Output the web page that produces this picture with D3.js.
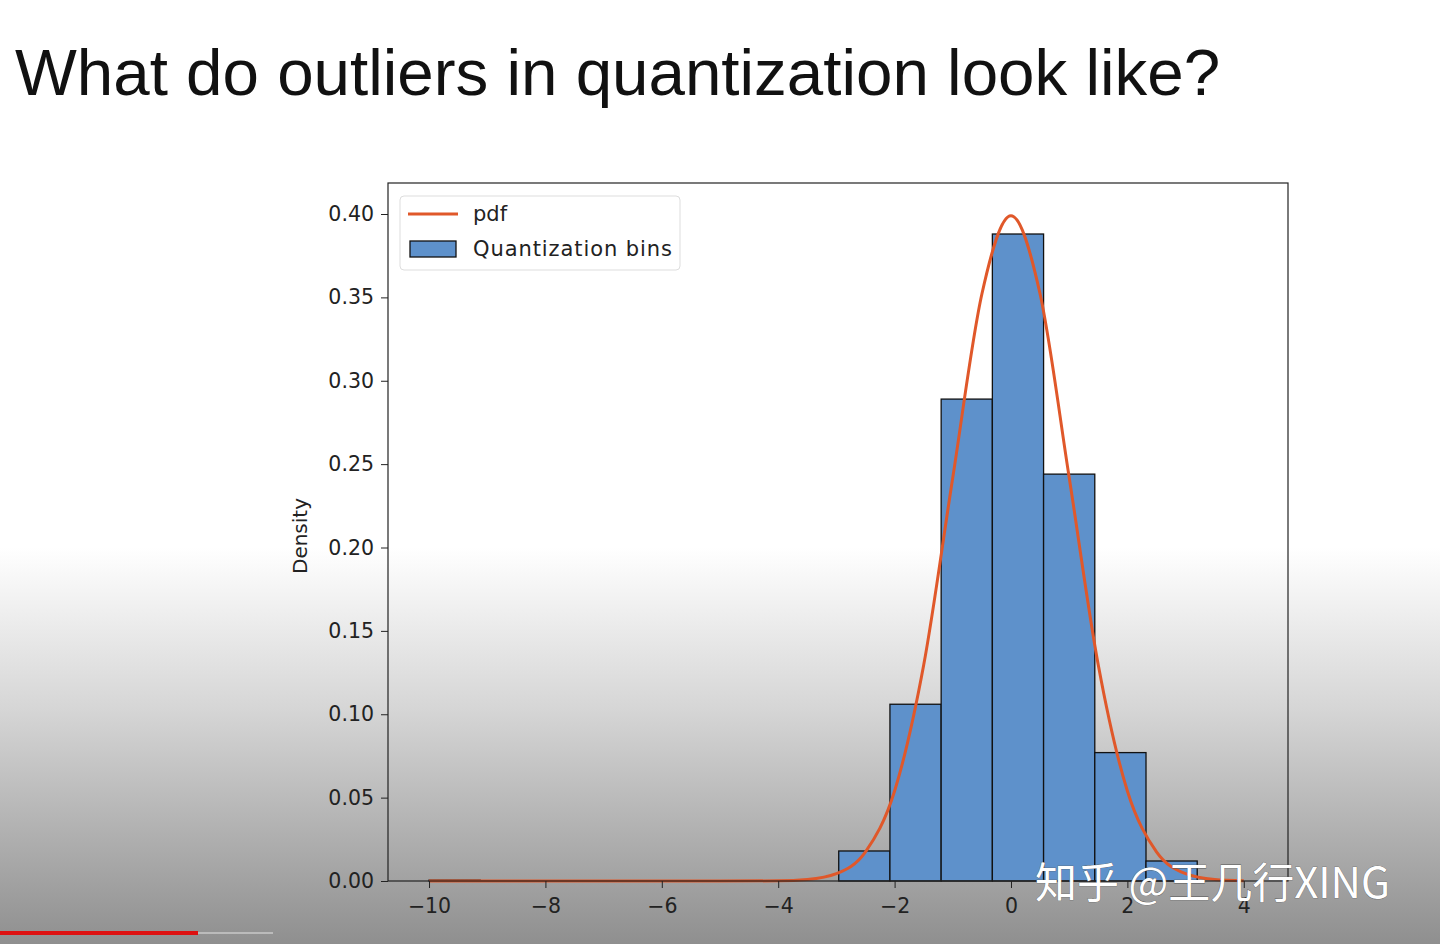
<!DOCTYPE html>
<html><head><meta charset="utf-8">
<script src="https://cdn.jsdelivr.net/npm/d3@7"></script>
<style>body{margin:0;overflow:hidden}</style>
</head><body>
<svg id="c" width="1440" height="944"></svg>
<script>
// histogram bins (left edge, density), width 0.88
const binEdges = [-10, -9.12, -8.24, -7.36, -6.48, -5.6, -4.72, -3.84, -2.96, -2.08, -1.2, -0.32, 0.56, 1.44, 2.32];
const binDensity = [0.0005, 0, 0, 0, 0, 0, 0, 0, 0.018, 0.106, 0.289, 0.388, 0.244, 0.077, 0.012];
const binWidth = 0.88;
// pdf curve points
const pdfX = [-10, -5, -4, -3.5, -3, -2.5, -2, -1.5, -1, -0.5, 0, 0.5, 1, 1.5, 2, 2.5, 3, 3.5, 4];
const pdfY = [0, 0, 0.0001, 0.0009, 0.0044, 0.0175, 0.054, 0.1295, 0.242, 0.352, 0.399, 0.352, 0.242, 0.1295, 0.054, 0.0175, 0.0044, 0.0009, 0.0001];
const yTicks = [0, 0.05, 0.10, 0.15, 0.20, 0.25, 0.30, 0.35, 0.40];
const xTicks = [-10, -8, -6, -4, -2, 0, 2, 4];

const svg = d3.select('#c');
const defs = svg.append('defs');
const gr = defs.append('linearGradient').attr('id', 'bg').attr('x1', 0).attr('x2', 0).attr('y1', 0).attr('y2', 1);
gr.append('stop').attr('offset', '0%').attr('stop-color', '#ffffff');
gr.append('stop').attr('offset', '58%').attr('stop-color', '#ffffff');
gr.append('stop').attr('offset', '75%').attr('stop-color', '#d6d6d6');
gr.append('stop').attr('offset', '100%').attr('stop-color', '#8f8f8f');
svg.append('rect').attr('width', 1440).attr('height', 944).attr('fill', 'url(#bg)');

svg.append('text').attr('x', 15).attr('y', 95).attr('font-family', 'Liberation Sans, Arial, sans-serif')
  .attr('font-size', 65.5).attr('fill', '#111').text('What do outliers in quantization look like?');

const L = 388, R = 1288, T = 183, B = 881;
const x = d3.scaleLinear().domain([-10.705, 4.76]).range([L, R]);
const y = d3.scaleLinear().domain([0, 0.4]).range([B, 214]);
const font = 'DejaVu Sans, sans-serif';

svg.append('g').selectAll('rect').data(binEdges).join('rect')
  .attr('x', d => x(d)).attr('width', x(binWidth) - x(0))
  .attr('y', (d, i) => y(binDensity[i])).attr('height', (d, i) => B - y(binDensity[i]))
  .attr('fill', '#5e91cb').attr('stroke', '#111').attr('stroke-width', 1.3);

const line = d3.line().x(d => x(d[0])).y(d => y(d[1])).curve(d3.curveMonotoneX);
svg.append('path').datum(pdfX.map((v, i) => [v, pdfY[i]])).attr('d', line)
  .attr('fill', 'none').attr('stroke', '#e0582a').attr('stroke-width', 3);

svg.append('rect').attr('x', L).attr('y', T).attr('width', R - L).attr('height', B - T)
  .attr('fill', 'none').attr('stroke', '#222').attr('stroke-width', 1.2);

const ya = svg.append('g').attr('transform', `translate(${L},0)`)
  .call(d3.axisLeft(y).tickValues(yTicks).tickFormat(d3.format('.2f')).tickSize(7).tickPadding(7));
const xa = svg.append('g').attr('transform', `translate(0,${B})`)
  .call(d3.axisBottom(x).tickValues(xTicks).tickFormat(d => d < 0 ? '\u2212' + (-d) : d).tickSize(7).tickPadding(10));
[ya, xa].forEach(a => {
  a.select('.domain').remove();
  a.selectAll('text').attr('font-family', font).attr('font-size', 20.5).attr('fill', '#222');
  a.selectAll('line').attr('stroke', '#222');
});
svg.append('text').attr('transform', 'translate(307,536) rotate(-90)').attr('text-anchor', 'middle')
  .attr('font-family', font).attr('font-size', 20).attr('fill', '#222').text('Density');

// legend
const lg = svg.append('g');
lg.append('rect').attr('x', 400).attr('y', 196).attr('width', 280).attr('height', 74).attr('rx', 4)
  .attr('fill', '#fff').attr('stroke', '#ddd');
lg.append('line').attr('x1', 408).attr('x2', 458).attr('y1', 214).attr('y2', 214).attr('stroke', '#e0582a').attr('stroke-width', 3);
lg.append('rect').attr('x', 410).attr('y', 241).attr('width', 46).attr('height', 16).attr('fill', '#5e91cb').attr('stroke', '#111').attr('stroke-width', 1.3);
lg.append('text').attr('x', 473).attr('y', 221).attr('font-family', font).attr('font-size', 21).attr('fill', '#222').text('pdf');
lg.append('text').attr('x', 473).attr('y', 256).attr('font-family', font).attr('font-size', 21).attr('fill', '#222')
  .attr('textLength', 199).text('Quantization bins');

// watermark
svg.append('text').attr('x', 1035).attr('y', 898).attr('font-family', 'Noto Sans CJK SC, sans-serif')
  .attr('font-size', 42).attr('fill', '#fff').attr('stroke', '#555').attr('stroke-width', 0.6)
  .attr('style', 'paint-order:stroke').text('知乎 @王几行XING');
svg.append('rect').attr('x', 0).attr('y', 931).attr('width', 198).attr('height', 4).attr('fill', '#d11');
svg.append('rect').attr('x', 198).attr('y', 932).attr('width', 75).attr('height', 2).attr('fill', '#bbb');
</script>
</body></html>
